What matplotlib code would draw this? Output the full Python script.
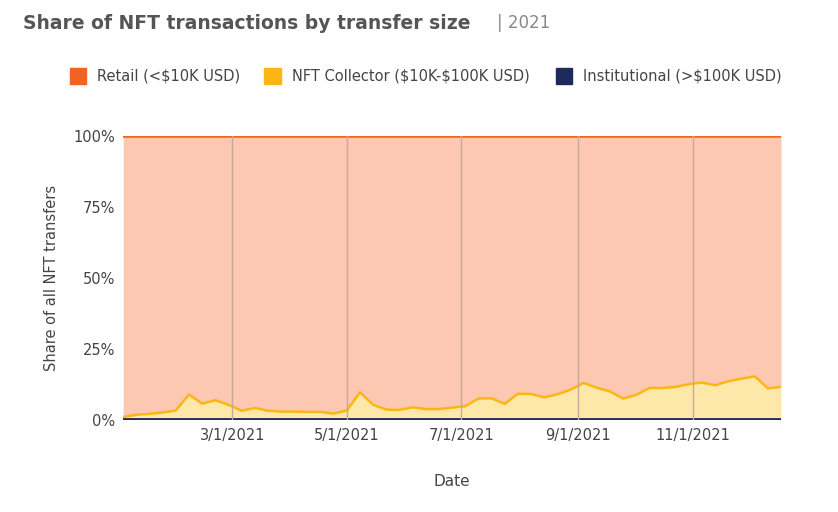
import numpy as np
import pandas as pd
import matplotlib.pyplot as plt
from matplotlib.ticker import FuncFormatter

# ----- Data -----
dates = pd.date_range("2021-01-02", "2021-12-18", periods=51)
collector = [0.7, 1.5, 1.8, 2.3, 3.0, 8.6, 5.4, 6.6, 5.0, 2.9, 3.9, 2.9, 2.6, 2.6, 2.5, 2.5,
             1.9, 3.0, 9.4, 5.0, 3.3, 3.2, 4.1, 3.5, 3.5, 4.0, 4.5, 7.2, 7.3, 5.3, 8.9, 8.8,
             7.6, 8.7, 10.3, 12.7, 11.0, 9.7, 7.2, 8.5, 10.9, 10.9, 11.3, 12.3, 12.8, 11.9,
             13.3, 14.2, 15.0, 10.8, 11.3]
institutional = [0.3] * len(collector)

inst = np.array(institutional)
coll = np.array(collector)

RETAIL_C, RETAIL_F = "#f26322", "#fdc8b1"
COLL_C, COLL_F = "#fbb614", "#fde8a9"
INST_C = "#1f2a5c"

fig = plt.figure(figsize=(8.38, 5.12), dpi=100)
ax = fig.add_axes([0.147, 0.18, 0.785, 0.555])

ax.fill_between(dates, 0, inst, color=INST_C, lw=0)
ax.fill_between(dates, inst, inst + coll, color=COLL_F, lw=0)
ax.fill_between(dates, inst + coll, 100, color=RETAIL_F, lw=0)
ax.plot(dates, inst + coll, color=COLL_C, lw=1.8)
ax.plot(dates, np.full(len(dates), 100.0), color=RETAIL_C, lw=1.8)
ax.plot(dates, inst, color=INST_C, lw=2)

ax.set_xlim(dates[0], dates[-1])
ax.set_ylim(0, 100)
ax.set_yticks([0, 25, 50, 75, 100])
ax.yaxis.set_major_formatter(FuncFormatter(lambda v, p: f"{int(v)}%"))
ticks = pd.to_datetime(["2021-03-01", "2021-05-01", "2021-07-01", "2021-09-01", "2021-11-01"])
ax.set_xticks(ticks)
ax.set_xticklabels([f"{d.month}/1/2021" for d in ticks])
ax.grid(axis="x", color="#c8a89a", lw=1)
ax.set_axisbelow(False)
for s in ax.spines.values():
    s.set_visible(False)
ax.tick_params(length=0, labelsize=10.5, colors="#444444", pad=6)
ax.set_xlabel("Date", fontsize=11, color="#444444", labelpad=22)
ax.set_ylabel("Share of all NFT transfers", fontsize=10.5, color="#444444", labelpad=10)

fig.text(0.027, 0.955, "Share of NFT transactions by transfer size", fontsize=13.5,
         fontweight="bold", color="#555555", va="center")
fig.text(0.593, 0.955, "| 2021", fontsize=12, color="#888888", va="center")

items = [("Retail (<\\$10K USD)", RETAIL_C, 0.083),
         ("NFT Collector (\\$10K-\\$100K USD)", COLL_C, 0.315),
         ("Institutional (>\\$100K USD)", INST_C, 0.663)]
for label, c, x in items:
    fig.patches.append(plt.Rectangle((x, 0.836), 0.02, 0.032, color=c, transform=fig.transFigure))
    fig.text(x + 0.033, 0.852, label, fontsize=10.5, color="#444444", va="center")

fig.savefig("out.png")
